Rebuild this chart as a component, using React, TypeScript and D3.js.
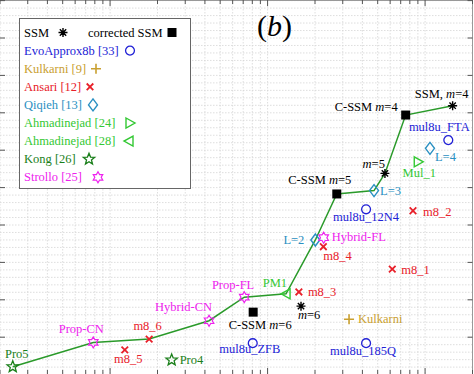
import * as d3 from "d3";

// chart values (x: log axis, y: linear axis)
const ssmNames = ["SSM, m=4", "m=5", "m=6"];
const ssmX = [1496, 556, 163];
const ssmY = [7.19, 5.38, 1.83];

const cssmNames = ["C-SSM m=4", "C-SSM m=5", "C-SSM m=6"];
const cssmX = [753, 275, 81];
const cssmY = [6.94, 4.83, 1.67];

const evoNames = ["mul8u_FTA", "mul8u_12N4", "mul8u_ZFB", "mul8u_185Q"];
const evoX = [1404, 422, 80.5, 422];
const evoY = [6.27, 4.42, 0.84, 0.84];

const kulkarniNames = ["Kulkarni"];
const kulkarniX = [329];
const kulkarniY = [1.48];

const ansariNames = ["m8_1", "m8_2", "m8_3", "m8_4", "m8_5", "m8_6"];
const ansariX = [619, 838, 158, 226, 12.4, 17.7];
const ansariY = [2.82, 4.38, 2.21, 3.42, 0.66, 0.95];

const qiqiehNames = ["L=2", "L=3", "L=4"];
const qiqiehX = [201, 474, 1074];
const qiqiehY = [3.6, 4.92, 6.05];

const ahmad24Names = ["Mul_1"];
const ahmad24X = [905];
const ahmad24Y = [5.69];

const ahmad28Names = ["PM1"];
const ahmad28X = [131];
const ahmad28Y = [2.16];

const kongNames = ["Pro5", "Pro4"];
const kongX = [2.41, 24.6];
const kongY = [0.21, 0.39];

const strolloNames = ["Prop-CN", "Hybrid-CN", "Prop-FL", "Hybrid-FL"];
const strolloX = [7.82, 42.5, 71.1, 227];
const strolloY = [0.86, 1.44, 2.07, 3.66];

// points joined by the green front, in order
const frontNames = ["Pro5", "Prop-CN", "m8_6", "Hybrid-CN", "Prop-FL", "PM1", "L=2",
  "C-SSM m=5", "L=3", "m=5", "C-SSM m=4", "SSM, m=4"];

const W = 474, H = 374;
const FONT = "'Liberation Serif', 'Times New Roman', serif";

const x = d3.scaleLog().domain([2, 2000]).range([0, 472.5]);
const y = d3.scaleLinear().domain([0, 10]).range([374.6, 0.6]);

// marker paths
const asterisk = (r: number) => {
  const a = r * 0.707;
  return `M${-r},0L${r},0M0,${-r}L0,${r}M${-a},${-a}L${a},${a}M${-a},${a}L${a},${-a}`;
};
const plus = (r: number) => `M${-r},0L${r},0M0,${-r}L0,${r}`;
const cross = (r: number) => `M${-r},${-r}L${r},${r}M${-r},${r}L${r},${-r}`;
const diamond = (w: number, h: number) => `M0,${-h}L${w},0L0,${h}L${-w},0Z`;
const triRight = `M-4,-5L5,0L-4,5Z`;
const triLeft = `M4,-5L-5,0L4,5Z`;
const starPts = (n: number, ro: number, ri: number) => {
  const pts: string[] = [];
  for (let i = 0; i < n * 2; i++) {
    const r = i % 2 === 0 ? ro : ri;
    const a = -Math.PI / 2 + (i * Math.PI) / n;
    pts.push(`${(r * Math.cos(a)).toFixed(2)},${(r * Math.sin(a)).toFixed(2)}`);
  }
  return "M" + pts.join("L") + "Z";
};

type Series = {
  key: string; label: string; names: string[]; xs: number[]; ys: number[];
  color: string; path: string; fill?: boolean; sw: number; legendX: number;
};

const series: Series[] = [
  { key: "ssm", label: "SSM", names: ssmNames, xs: ssmX, ys: ssmY, color: "#000", path: asterisk(4.5), sw: 1.4, legendX: 63 },
  { key: "cssm", label: "corrected SSM", names: cssmNames, xs: cssmX, ys: cssmY, color: "#000", path: "M-4.5,-4.5H4.5V4.5H-4.5Z", fill: true, sw: 0, legendX: 172 },
  { key: "evo", label: "EvoApprox8b [33]", names: evoNames, xs: evoX, ys: evoY, color: "#2222d6", path: d3.symbol(d3.symbolCircle, 62)()!, sw: 1.3, legendX: 130 },
  { key: "kul", label: "Kulkarni [9]", names: kulkarniNames, xs: kulkarniX, ys: kulkarniY, color: "#c9a030", path: plus(5), sw: 1.6, legendX: 96 },
  { key: "ans", label: "Ansari [12]", names: ansariNames, xs: ansariX, ys: ansariY, color: "#e8202a", path: cross(3.3), sw: 1.8, legendX: 90 },
  { key: "qiq", label: "Qiqieh [13]", names: qiqiehNames, xs: qiqiehX, ys: qiqiehY, color: "#2a90c2", path: diamond(4.5, 6), sw: 1.4, legendX: 93 },
  { key: "a24", label: "Ahmadinejad [24]", names: ahmad24Names, xs: ahmad24X, ys: ahmad24Y, color: "#33c833", path: triRight, sw: 1.4, legendX: 130 },
  { key: "a28", label: "Ahmadinejad [28]", names: ahmad28Names, xs: ahmad28X, ys: ahmad28Y, color: "#33c833", path: triLeft, sw: 1.4, legendX: 129 },
  { key: "kong", label: "Kong [26]", names: kongNames, xs: kongX, ys: kongY, color: "#1a7f1a", path: starPts(5, 6, 2.6), sw: 1.3, legendX: 89 },
  { key: "str", label: "Strollo [25]", names: strolloNames, xs: strolloX, ys: strolloY, color: "#ee22ee", path: starPts(6, 5.5, 3.2), sw: 1.2, legendX: 98 },
];

// label placement relative to the marker: dx, dy, anchor
const labelPos: Record<string, [number, number, string]> = {
  "SSM, m=4": [-11, -8, "middle"], "m=5": [0, -5, "end"], "m=6": [-3, 13, "start"],
  "C-SSM m=4": [-8, -4, "end"], "C-SSM m=5": [-17, -10, "middle"], "C-SSM m=6": [7, 17, "middle"],
  "mul8u_FTA": [-9, -9, "middle"], "mul8u_12N4": [0, 12, "middle"], "mul8u_ZFB": [-3, 10, "middle"], "mul8u_185Q": [-3, 12, "middle"],
  "Kulkarni": [9, 4, "start"],
  "m8_1": [9, 5, "start"], "m8_2": [10, 5, "start"], "m8_3": [9, 4, "start"], "m8_4": [0, 13, "start"], "m8_5": [3.5, 13, "middle"], "m8_6": [-1.5, -9, "middle"],
  "L=2": [-11, 4, "end"], "L=3": [6, 4, "start"], "L=4": [5, 13, "start"],
  "Mul_1": [1, 15, "middle"], "PM1": [1, -7, "end"],
  "Pro5": [4, -9, "middle"], "Pro4": [8, 4, "start"],
  "Prop-CN": [-12, -9, "middle"], "Hybrid-CN": [3, -10, "end"], "Prop-FL": [10, -8, "end"], "Hybrid-FL": [8, 3, "start"],
};

const labelText = (name: string) => {
  const m = name.match(/^(.*?)m(=\d)$/);
  if (!m) return name;
  return (<>{m[1]}<tspan fontStyle="italic">m</tspan>{m[2]}</>);
};

export default function App() {
  const lookup: Record<string, [number, number]> = {};
  series.forEach(s => s.names.forEach((n, i) => { lookup[n] = [s.xs[i], s.ys[i]]; }));
  const line = d3.line<[number, number]>().x(d => x(d[0])).y(d => y(d[1]));
  const front = frontNames.map(n => lookup[n]);

  const xTicks = x.ticks();
  const majorX = (v: number) => Math.abs(Math.log10(v) - Math.round(Math.log10(v))) < 1e-9;
  const yGrid = d3.range(0, 10.001, 0.2);
  const yTicks = y.ticks(10);

  return (
    <svg width={W} height={H} style={{ position: "absolute", left: 0, top: 0, background: "#fff" }}
      fontFamily={FONT}>
      {/* grid */}
      <g stroke="#d6d6d6" strokeWidth={0.8} strokeDasharray="1.5,1.5">
        {xTicks.map(t => <line key={"gx" + t} x1={x(t)} x2={x(t)} y1={0} y2={H} />)}
        {yGrid.map(t => <line key={"gy" + t} x1={0} x2={472.5} y1={y(t)} y2={y(t)} />)}
      </g>
      {/* frame and ticks */}
      <g stroke="#555" strokeWidth={1} fill="none">
        <line x1={0} x2={472.5} y1={0.5} y2={0.5} stroke="#999" />
        <line x1={472.5} x2={472.5} y1={0} y2={H} stroke="#999" />
        {xTicks.map(t => (
          <g key={"tx" + t}>
            <line x1={x(t)} x2={x(t)} y1={0} y2={majorX(t) ? 6 : 4} />
            <line x1={x(t)} x2={x(t)} y1={H} y2={H - (majorX(t) ? 6 : 4)} />
          </g>
        ))}
        {yTicks.map(t => (
          <g key={"ty" + t}>
            <line x1={0} x2={5} y1={y(t)} y2={y(t)} />
            <line x1={472.5} x2={467.5} y1={y(t)} y2={y(t)} />
          </g>
        ))}
      </g>
      {/* front */}
      <path d={line(front)!} fill="none" stroke="#2a9a2a" strokeWidth={1.5} />
      {/* markers and labels */}
      {series.map(s => (
        <g key={s.key}>
          {s.names.map((n, i) => {
            const px = x(s.xs[i]), py = y(s.ys[i]);
            const [dx, dy, anchor] = labelPos[n];
            return (
              <g key={n}>
                <path d={s.path} transform={`translate(${px},${py})`}
                  fill={s.fill ? s.color : "none"} stroke={s.color} strokeWidth={s.sw} />
                <text x={px + dx} y={py + dy} textAnchor={anchor} fontSize={12.5} fill={s.color}>
                  {labelText(n)}
                </text>
              </g>
            );
          })}
        </g>
      ))}
      {/* legend */}
      <g>
        <rect x={19.5} y={18.5} width={171} height={170} fill="#fff" stroke="#666" strokeWidth={1} />
        {series.map((s, i) => {
          const row = i < 2 ? 0 : i - 1;
          const base = 36.5 + 18.1 * row;
          const tx = i === 1 ? 88 : 24;
          return (
            <g key={"lg" + s.key}>
              <text x={tx} y={base} fontSize={12.5} fill={s.color}>{s.label}</text>
              <path d={s.path} transform={`translate(${s.legendX},${base - 4})`}
                fill={s.fill ? s.color : "none"} stroke={s.color} strokeWidth={s.sw} />
            </g>
          );
        })}
      </g>
      <text x={257} y={36} fontSize={30} fill="#000">(<tspan fontStyle="italic">b</tspan>)</text>
    </svg>
  );
}
